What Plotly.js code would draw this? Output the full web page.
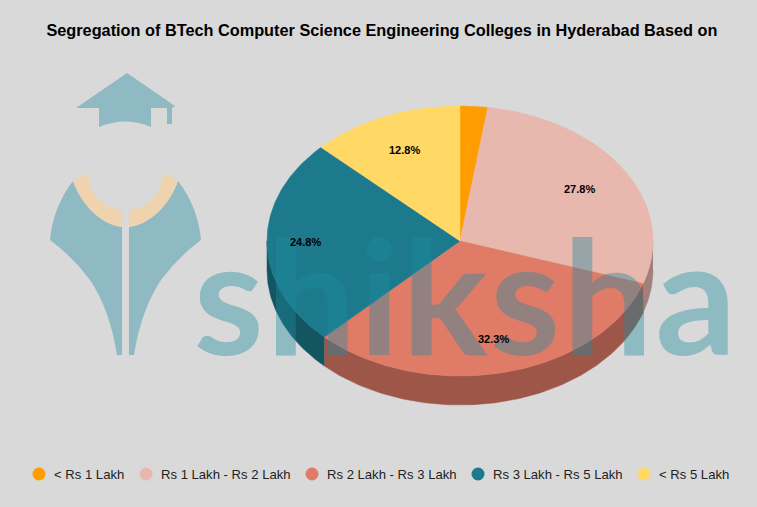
<!DOCTYPE html>
<html><head><meta charset="utf-8">
<script src="https://cdn.plot.ly/plotly-3.0.1.min.js"></script>
<style>html,body{margin:0;padding:0;background:#d9d9d9}#c{width:757px;height:507px}</style>
</head><body><div id="c"></div>
<script>
const categories = ['< Rs 1 Lakh','Rs 1 Lakh - Rs 2 Lakh','Rs 2 Lakh - Rs 3 Lakh','Rs 3 Lakh - Rs 5 Lakh','< Rs 5 Lakh'];
const shares = [2.3, 27.8, 32.3, 24.8, 12.8];
const colors = ['#ff9c00','#e8b7ae','#e07b67','#1c7a8c','#ffd866'];
const titleText = 'Segregation of BTech Computer Science Engineering Colleges in Hyderabad Based on';
const watermark = 'shiksha';

const CX=460, CY=241, RX=193, RY=135, DEPTH=29;
const labelRadius=[0,.73,.75,.8,.73];
const legendMarkerX=[39,146,312,478,644], legendY=474, legendTextGap=15;
const total=shares.reduce((a,b)=>a+b,0);
const pt=(deg,r=1,dy=0)=>{const t=deg*Math.PI/180;return [CX+RX*r*Math.sin(t),CY-RY*r*Math.cos(t)+dy];};
const shade=(hex,f)=>{const n=parseInt(hex.slice(1),16);return `rgb(${Math.round((n>>16)*f)},${Math.round(((n>>8)&255)*f)},${Math.round((n&255)*f)})`;};
const arc=(a,b,dy=0)=>{const out=[],n=Math.max(2,Math.ceil(Math.abs(b-a)));for(let i=0;i<=n;i++)out.push(pt(a+(b-a)*i/n,1,dy));return out;};
const poly=(pts,color)=>({type:'scatter',mode:'lines',x:pts.map(p=>p[0]),y:pts.map(p=>p[1]),fill:'toself',fillcolor:color,line:{color:color,width:.5},hoverinfo:'skip',showlegend:false});

let cum=0;const spans=shares.map(v=>{const s=cum/total*360;cum+=v;return [s,cum/total*360];});
const traces=[];
spans.forEach(([a,b],i)=>{const s=Math.max(a,90),e=Math.min(b,270);if(e>s)traces.push(poly(arc(s,e).concat(arc(e,s,DEPTH)),shade(colors[i],.7)));});
spans.forEach(([a,b],i)=>traces.push(poly([[CX,CY]].concat(arc(a,b),[[CX,CY]]),colors[i])));
categories.forEach((c,i)=>traces.push({type:'scatter',mode:'markers',x:[null],y:[null],name:c,marker:{color:colors[i],size:13},showlegend:true,hoverinfo:'skip'}));

const annotations=[{text:watermark,xref:'x',yref:'y',x:200,y:293,xanchor:'left',yanchor:'middle',showarrow:false,opacity:.4,font:{family:'Lato',size:160,color:'#208ca2',weight:700}}];
spans.forEach(([a,b],i)=>{if(shares[i]<5)return;const p=pt((a+b)/2,labelRadius[i]);annotations.push({text:shares[i].toFixed(1)+'%',xref:'x',yref:'y',x:p[0],y:p[1],showarrow:false,font:{family:'Liberation Sans',size:11,color:'#000',weight:700}});});

const T='#8fbac3',P='#efd3ae';
const shapes=[
 {path:'M127,73 L175,106 L172,108 L172,124 L167,124 L167,108 L151,108 L151,127 Q125,116 99,127 L99,108 L76,108 Z',fc:T},
 {path:'M73,181 Q53,207 50,240 Q73,257 90,280 Q110,310 117,355 L122,355 L122,227 C100,224 82,205 73,181 Z',fc:T},
 {path:'M178,181 Q198,207 201,240 Q178,257 161,280 Q141,310 134,355 L129,355 L129,227 C151,224 169,205 178,181 Z',fc:T},
 {path:'M73,181 L88,172 C88,190 100,208 122,210 L122,227 C100,224 82,205 73,181 Z',fc:P},
 {path:'M178,181 L163,172 C163,190 151,208 129,210 L129,227 C151,224 169,205 178,181 Z',fc:P}
].map(s=>({type:'path',path:s.path,xref:'x',yref:'y',fillcolor:s.fc,line:{width:0},layer:'below'}));

const ax={visible:false,fixedrange:true};
Plotly.newPlot('c',traces,{
 width:757,height:507,margin:{l:0,r:0,t:0,b:0},paper_bgcolor:'#d9d9d9',plot_bgcolor:'#d9d9d9',
 xaxis:Object.assign({range:[0,757]},ax),yaxis:Object.assign({range:[507,0]},ax),
 title:{text:titleText,x:.5045,y:.941,xanchor:'center',yanchor:'middle',font:{family:'Liberation Sans',size:16.3,color:'#000',weight:700}},
 legend:{orientation:'h',x:0,xanchor:'left',y:.065,yanchor:'middle',font:{family:'Liberation Sans',size:13.1,color:'#222'},bgcolor:'rgba(0,0,0,0)'},
 annotations,shapes
},{displayModeBar:false,staticPlot:true}).then(gd=>{
 const wm=gd.querySelector('.annotation-text');
 if(wm)wm.style.letterSpacing='2.4px';
 const sb=gd.querySelector('.legend .scrollbox');
 if(sb)sb.removeAttribute('clip-path');
 gd.querySelectorAll('.legend .traces').forEach((g,i)=>{
  const m=/translate\(([-\d.]+)[ ,]*([-\d.]*)/.exec(g.getAttribute('transform')||'')||[0,0,0];
  const pts=g.querySelector('.legendpoints path, .legendpoints .point');
  const r=pts.getBoundingClientRect();
  const dx=legendMarkerX[i]-(r.left+r.width/2), dy=legendY-(r.top+r.height/2);
  g.setAttribute('transform',`translate(${+m[1]+dx},${(+m[2]||0)+dy})`);
  const t=g.querySelector('.legendtext');
  const r2=pts.getBoundingClientRect(), tr=t.getBoundingClientRect();
  t.setAttribute('x',+t.getAttribute('x')-(tr.left-(r2.left+r2.width/2+legendTextGap)));
 });
});
</script></body></html>
